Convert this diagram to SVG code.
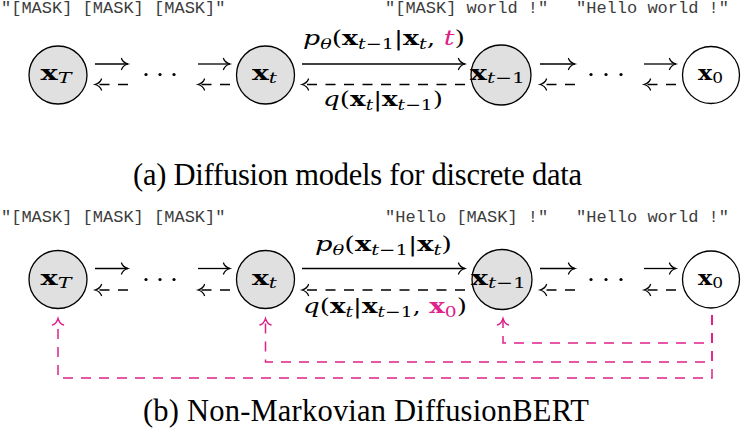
<svg xmlns="http://www.w3.org/2000/svg" width="742" height="430" viewBox="0 0 742 430">
<style>
.bg{fill:#fff}
.nd{stroke:#000;stroke-width:1.3;fill:#e0e0e0}
.nd.w{fill:#fff}
.ar{stroke:#000;stroke-width:1.3;fill:none}
.ds{stroke-dasharray:10 8.5}
.mg{stroke:#e0218a;stroke-width:1.5;fill:none;stroke-dasharray:10 8}
.mask{font-family:"Liberation Mono","DejaVu Sans Mono",monospace;font-size:17px;fill:#3c3c3c}
.cap{font-family:"Liberation Serif","Times New Roman",serif;font-size:30.5px;fill:#000}
.m{font-family:"DejaVu Serif","Liberation Serif",serif;font-size:21px;fill:#000}
.s{font-size:15px}
.b{font-weight:bold}
.i{font-style:italic}
.pk{fill:#e0218a}
.dot{fill:#000}
</style>
<defs>
<marker id="ah" viewBox="-8 -7 10 14" markerWidth="10" markerHeight="14" refX="0" refY="0" orient="auto" markerUnits="userSpaceOnUse" overflow="visible">
<path d="M-6.5,-5.5 C-5.5,-2.6 -2.4,-0.7 0,0 C-2.4,0.7 -5.5,2.6 -6.5,5.5" fill="none" stroke="#000" stroke-width="1.3" stroke-linecap="round" stroke-dasharray="none"/>
</marker>
<marker id="ahm" viewBox="-8 -7 10 14" markerWidth="10" markerHeight="14" refX="0" refY="0" orient="auto" markerUnits="userSpaceOnUse" overflow="visible">
<path d="M-6.5,-5.5 C-5.5,-2.6 -2.4,-0.7 0,0 C-2.4,0.7 -5.5,2.6 -6.5,5.5" fill="none" stroke="#e0218a" stroke-width="1.4" stroke-linecap="round" stroke-dasharray="none"/>
</marker>
</defs>
<rect class="bg" x="0" y="0" width="742" height="430"/>

<!-- ===== (a) ===== -->
<g id="a-texts">
<text class="mask" x="1" y="13">"[MASK] [MASK] [MASK]"</text>
<text class="mask" x="385" y="13">"[MASK] world !"</text>
<text class="mask" x="576" y="13">"Hello world !"</text>
</g>

<g id="a-connectors">
<path class="ar" d="M95,64 H128" marker-end="url(#ah)"/>
<path class="ar ds" d="M128,84.5 H95" marker-end="url(#ah)"/>
<path class="ar" d="M198,64 H230" marker-end="url(#ah)"/>
<path class="ar ds" d="M230,84.5 H198" marker-end="url(#ah)"/>
<path class="ar" d="M302,64 H465" marker-end="url(#ah)"/>
<path class="ar ds" d="M465,84.5 H302" marker-end="url(#ah)"/>
<path class="ar" d="M540,64 H575" marker-end="url(#ah)"/>
<path class="ar ds" d="M575,84.5 H540" marker-end="url(#ah)"/>
<path class="ar" d="M644,64 H676" marker-end="url(#ah)"/>
<path class="ar ds" d="M676,84.5 H644" marker-end="url(#ah)"/>
<circle class="dot" cx="146" cy="74.5" r="1.6"/>
<circle class="dot" cx="160" cy="74.5" r="1.6"/>
<circle class="dot" cx="174" cy="74.5" r="1.6"/>
<circle class="dot" cx="591" cy="74.5" r="1.6"/>
<circle class="dot" cx="606" cy="74.5" r="1.6"/>
<circle class="dot" cx="621" cy="74.5" r="1.6"/>
<text class="m" x="384" y="45" text-anchor="middle" textLength="162" lengthAdjust="spacingAndGlyphs"><tspan class="i">p</tspan><tspan class="s i" dy="4">θ</tspan><tspan dy="-4">(</tspan><tspan class="b">x</tspan><tspan class="s" dy="4"><tspan class="i">t</tspan>−1</tspan><tspan dy="-4">|</tspan><tspan class="b">x</tspan><tspan class="s i" dy="4">t</tspan><tspan dy="-4">, </tspan><tspan class="i pk">t</tspan>)</text>
<text class="m" x="383" y="106" text-anchor="middle" textLength="120" lengthAdjust="spacingAndGlyphs"><tspan class="i">q</tspan>(<tspan class="b">x</tspan><tspan class="s i" dy="4">t</tspan><tspan dy="-4">|</tspan><tspan class="b">x</tspan><tspan class="s" dy="4"><tspan class="i">t</tspan>−1</tspan><tspan dy="-4">)</tspan></text>
</g>

<g id="a-xT"><circle class="nd" cx="58" cy="75" r="29"/><text class="m" x="56" y="80" text-anchor="middle" textLength="31" lengthAdjust="spacingAndGlyphs"><tspan class="b">x</tspan><tspan class="s i" dy="3">T</tspan></text></g>
<g id="a-xt"><circle class="nd" cx="265.5" cy="75" r="29"/><text class="m" x="264.5" y="80" text-anchor="middle" textLength="25" lengthAdjust="spacingAndGlyphs"><tspan class="b">x</tspan><tspan class="s i" dy="3">t</tspan></text></g>
<g id="a-xt1"><circle class="nd" cx="501" cy="75" r="30"/><text class="m" x="497.5" y="80" text-anchor="middle" textLength="55" lengthAdjust="spacingAndGlyphs"><tspan class="b">x</tspan><tspan class="s" dy="3"><tspan class="i">t</tspan>−1</tspan></text></g>
<g id="a-x0"><circle class="nd w" cx="711" cy="75" r="28.5"/><text class="m" x="710.5" y="80" text-anchor="middle" textLength="25" lengthAdjust="spacingAndGlyphs"><tspan class="b">x</tspan><tspan class="s" dy="3">0</tspan></text></g>

<text class="cap" x="133" y="185" textLength="449">(a) Diffusion models for discrete data</text>

<!-- ===== (b) ===== -->
<g id="b-texts">
<text class="mask" x="1" y="222">"[MASK] [MASK] [MASK]"</text>
<text class="mask" x="385" y="222">"Hello [MASK] !"</text>
<text class="mask" x="576" y="222">"Hello world !"</text>
</g>

<g id="b-connectors">
<path class="ar" d="M95,268.5 H128" marker-end="url(#ah)"/>
<path class="ar ds" d="M128,290 H95" marker-end="url(#ah)"/>
<path class="ar" d="M198,268.5 H230" marker-end="url(#ah)"/>
<path class="ar ds" d="M230,290 H198" marker-end="url(#ah)"/>
<path class="ar" d="M302,268.5 H465" marker-end="url(#ah)"/>
<path class="ar ds" d="M465,290 H302" marker-end="url(#ah)"/>
<path class="ar" d="M540,268.5 H575" marker-end="url(#ah)"/>
<path class="ar ds" d="M575,290 H540" marker-end="url(#ah)"/>
<path class="ar" d="M644,268.5 H676" marker-end="url(#ah)"/>
<path class="ar ds" d="M676,290 H644" marker-end="url(#ah)"/>
<circle class="dot" cx="146" cy="279.5" r="1.6"/>
<circle class="dot" cx="160" cy="279.5" r="1.6"/>
<circle class="dot" cx="174" cy="279.5" r="1.6"/>
<circle class="dot" cx="591" cy="279.5" r="1.6"/>
<circle class="dot" cx="606" cy="279.5" r="1.6"/>
<circle class="dot" cx="621" cy="279.5" r="1.6"/>
<text class="m" x="383.5" y="251" text-anchor="middle" textLength="137" lengthAdjust="spacingAndGlyphs"><tspan class="i">p</tspan><tspan class="s i" dy="4">θ</tspan><tspan dy="-4">(</tspan><tspan class="b">x</tspan><tspan class="s" dy="4"><tspan class="i">t</tspan>−1</tspan><tspan dy="-4">|</tspan><tspan class="b">x</tspan><tspan class="s i" dy="4">t</tspan><tspan dy="-4">)</tspan></text>
<text class="m" x="385" y="313" text-anchor="middle" textLength="164" lengthAdjust="spacingAndGlyphs"><tspan class="i">q</tspan>(<tspan class="b">x</tspan><tspan class="s i" dy="4">t</tspan><tspan dy="-4">|</tspan><tspan class="b">x</tspan><tspan class="s" dy="4"><tspan class="i">t</tspan>−1</tspan><tspan dy="-4">, </tspan><tspan class="b pk">x</tspan><tspan class="s pk" dy="4">0</tspan><tspan dy="-4">)</tspan></text>
<path class="mg" d="M712,315 V343 H503 V318.5" marker-end="url(#ahm)"/>
<path class="mg" d="M712,315 V362 H265.5 V318.5" marker-end="url(#ahm)"/>
<path class="mg" d="M712,315 V378 H58 V318.5" marker-end="url(#ahm)"/>
</g>

<g id="b-xT"><circle class="nd" cx="58" cy="279.5" r="29"/><text class="m" x="56" y="284.5" text-anchor="middle" textLength="31" lengthAdjust="spacingAndGlyphs"><tspan class="b">x</tspan><tspan class="s i" dy="3">T</tspan></text></g>
<g id="b-xt"><circle class="nd" cx="265.5" cy="279.5" r="29"/><text class="m" x="264.5" y="284.5" text-anchor="middle" textLength="25" lengthAdjust="spacingAndGlyphs"><tspan class="b">x</tspan><tspan class="s i" dy="3">t</tspan></text></g>
<g id="b-xt1"><circle class="nd" cx="502" cy="279.5" r="30"/><text class="m" x="498.5" y="284.5" text-anchor="middle" textLength="55" lengthAdjust="spacingAndGlyphs"><tspan class="b">x</tspan><tspan class="s" dy="3"><tspan class="i">t</tspan>−1</tspan></text></g>
<g id="b-x0"><circle class="nd w" cx="711" cy="279.5" r="28.5"/><text class="m" x="710.5" y="284.5" text-anchor="middle" textLength="25" lengthAdjust="spacingAndGlyphs"><tspan class="b">x</tspan><tspan class="s" dy="3">0</tspan></text></g>

<text class="cap" x="143" y="421" textLength="446">(b) Non-Markovian DiffusionBERT</text>
</svg>
